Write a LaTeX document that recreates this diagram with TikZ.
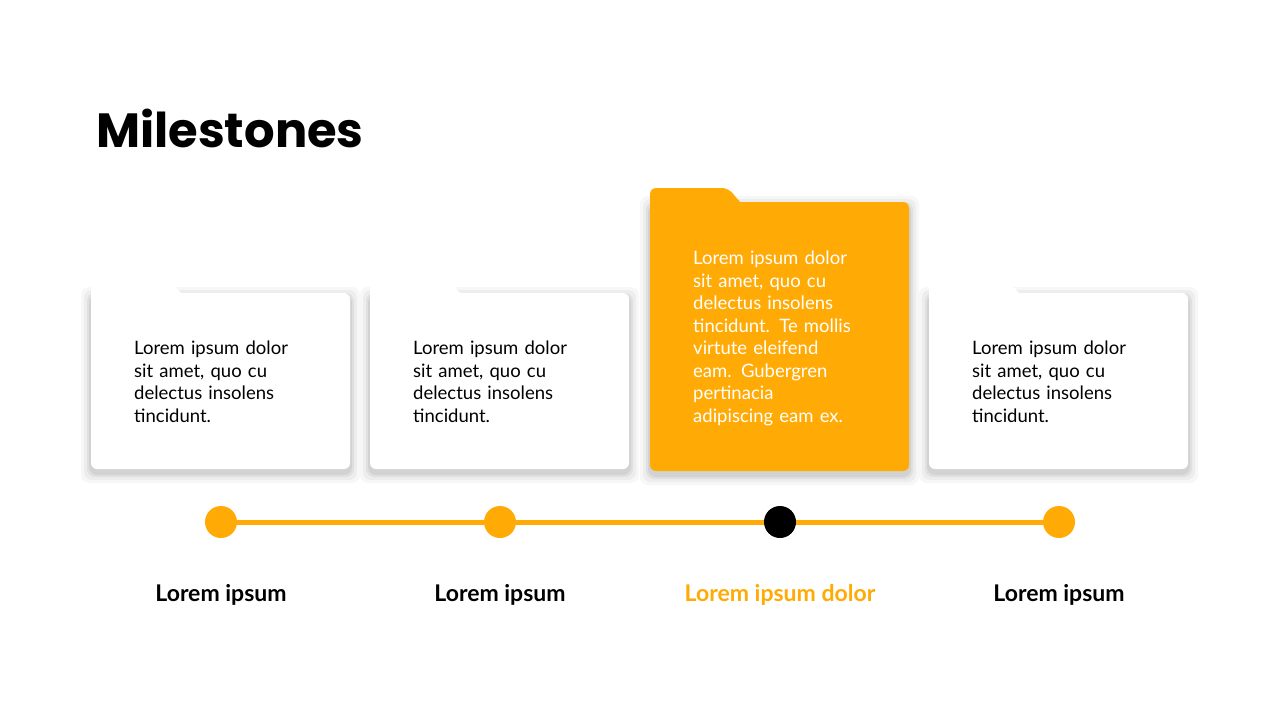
\documentclass[tikz,border=0pt]{standalone}
\usepackage{fontspec}
\setmainfont{Poppins}
\newfontfamily\bodyfont{Lato}
\definecolor{gold}{HTML}{FFAA05}
\newcommand{\folderpath}[3]{% x, top of tab, top of body (body bottom fixed per call by shift)
}
\tikzset{
  bodytext/.style={anchor=north west, align=left, font=\fontsize{18.5}{22.5}\selectfont\bodyfont, text width=200pt, inner sep=0pt},
  lab/.style={font=\fontsize{23}{26}\selectfont\bfseries\bodyfont},
  dot/.style={circle, fill=gold, minimum size=32pt, inner sep=0pt},
}
\newcommand{\folder}[5]{% x, tabtop, bodytop, bottom, fill
  \foreach \s/\o in {10/0.03,7/0.04,4/0.05,2/0.06}{
    \fill[black, opacity=\o, rounded corners=8pt] (#1-\s, #3-\s+4) rectangle (#1+259+\s, #4+\s+4);
  }
  \fill[#5, rounded corners=6pt] (#1,#4) -- (#1,#2) -- (#1+78,#2) [sharp corners] -- (#1+90,#3) [rounded corners=6pt] -- (#1+259,#3) -- (#1+259,#4) -- cycle;
}
\begin{document}
\begin{tikzpicture}[x=1pt,y=-1pt]
\useasboundingbox (0,0) rectangle (1280,720);
\fill[white] (0,0) rectangle (1280,720);
\node[anchor=west, font=\fontsize{48}{50}\selectfont\bfseries, inner sep=0pt] (title) at (96,128) {Milestones};
\folder{91}{280}{293}{469}{white}
\folder{370}{280}{293}{469}{white}
\folder{650}{188}{202}{471}{gold}
\folder{929}{280}{293}{469}{white}
\node[bodytext] (t1) at (134,341) {Lorem ipsum dolor\\sit amet, quo cu\\delectus insolens\\tincidunt.};
\node[bodytext] (t2) at (413,341) {Lorem ipsum dolor\\sit amet, quo cu\\delectus insolens\\tincidunt.};
\node[bodytext, text=white] (t3) at (693,251) {Lorem ipsum dolor\\sit amet, quo cu\\delectus insolens\\tincidunt. Te mollis\\virtute eleifend\\eam. Gubergren\\pertinacia\\adipiscing eam ex.};
\node[bodytext] (t4) at (972,341) {Lorem ipsum dolor\\sit amet, quo cu\\delectus insolens\\tincidunt.};
\node[dot] (d1) at (221,522) {};
\node[dot] (d2) at (500,522) {};
\node[dot, fill=black] (d3) at (780,522) {};
\node[dot] (d4) at (1059,522) {};
\draw[gold, line width=5pt] (d1) -- (d2);
\draw[gold, line width=5pt] (d2) -- (d3);
\draw[gold, line width=5pt] (d3) -- (d4);
\node[lab] (l1) at (221,595) {Lorem ipsum};
\node[lab] (l2) at (500,595) {Lorem ipsum};
\node[lab, text=gold] (l3) at (780,595) {Lorem ipsum dolor};
\node[lab] (l4) at (1059,595) {Lorem ipsum};
\end{tikzpicture}
\end{document}
